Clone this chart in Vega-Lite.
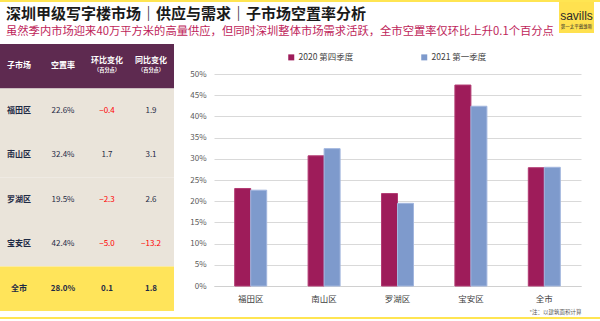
{
  "$schema": "https://vega.github.io/schema/vega-lite/v6.json",
  "padding": 0,
  "background": "white",
  "config": {
    "view": {"stroke": null},
    "font": "Noto Sans CJK SC",
    "text": {"font": "Noto Sans CJK SC"}
  },
  "datasets": {
    "heading": [
      {"kind": "title", "text": "深圳甲级写字楼市场｜供应与需求｜子市场空置率分析"},
      {"kind": "subtitle", "text": "虽然季内市场迎来40万平方米的高量供应，但同时深圳整体市场需求活跃，全市空置率仅环比上升0.1个百分点"}
    ],
    "logo": [
      {"line": "brand", "text": "savills"},
      {"line": "cn", "text": "第一太平戴维斯"}
    ],
    "tableRows": [
      {"row": "header", "kind": "header"},
      {"row": "福田区", "kind": "body"},
      {"row": "南山区", "kind": "body"},
      {"row": "罗湖区", "kind": "body"},
      {"row": "宝安区", "kind": "body"},
      {"row": "全市", "kind": "total"}
    ],
    "tableHeader": [
      {"col": "子市场", "l1": "子市场", "l2": ""},
      {"col": "空置率", "l1": "空置率", "l2": ""},
      {"col": "环比变化", "l1": "环比变化", "l2": "（百分点）"},
      {"col": "同比变化", "l1": "同比变化", "l2": "（百分点）"}
    ],
    "table": [
      {"region": "福田区", "空置率": 22.6, "环比变化": -0.4, "同比变化": 1.9, "total": false},
      {"region": "南山区", "空置率": 32.4, "环比变化": 1.7, "同比变化": 3.1, "total": false},
      {"region": "罗湖区", "空置率": 19.5, "环比变化": -2.3, "同比变化": 2.6, "total": false},
      {"region": "宝安区", "空置率": 42.4, "环比变化": -5.0, "同比变化": -13.2, "total": false},
      {"region": "全市", "空置率": 28.0, "环比变化": 0.1, "同比变化": 1.8, "total": true}
    ],
    "vacancy": [
      {"region": "福田区", "quarter": "2020 第四季度", "rate": 23.0},
      {"region": "福田区", "quarter": "2021 第一季度", "rate": 22.6},
      {"region": "南山区", "quarter": "2020 第四季度", "rate": 30.7},
      {"region": "南山区", "quarter": "2021 第一季度", "rate": 32.4},
      {"region": "罗湖区", "quarter": "2020 第四季度", "rate": 21.8},
      {"region": "罗湖区", "quarter": "2021 第一季度", "rate": 19.5},
      {"region": "宝安区", "quarter": "2020 第四季度", "rate": 47.4},
      {"region": "宝安区", "quarter": "2021 第一季度", "rate": 42.4},
      {"region": "全市", "quarter": "2020 第四季度", "rate": 27.9},
      {"region": "全市", "quarter": "2021 第一季度", "rate": 28.0}
    ]
  },
  "spacing": 5,
  "resolve": {"scale": {"color": "independent", "stroke": "independent"}, "legend": {"color": "independent"}},
  "vconcat": [
    {
      "spacing": 0,
      "bounds": "flush",
      "vconcat": [
        {
          "spacing": 0,
          "bounds": "flush",
          "hconcat": [
            {
              "width": 559,
              "height": 39,
              "data": {"name": "heading"},
              "encoding": {
                "x": {"datum": 0, "type": "quantitative", "scale": {"domain": [0, 1]}, "axis": null},
                "y": {"field": "kind", "type": "nominal", "scale": {"type": "point", "domain": ["title", "subtitle"], "padding": 0.614, "align": 0.674}, "axis": null},
                "text": {"field": "text"}
              },
              "layer": [
                {
                  "transform": [{"filter": "datum.kind == 'title'"}],
                  "mark": {"type": "text", "align": "left", "dx": 6, "fontSize": 15, "fontWeight": "bold", "fill": "#1A1A1A"}
                },
                {
                  "transform": [{"filter": "datum.kind == 'subtitle'"}],
                  "mark": {"type": "text", "align": "left", "dx": 6, "fontSize": 11.3, "fill": "#BE1E5A"}
                }
              ]
            },
            {
              "width": 35,
              "height": 33,
              "layer": [
                {
                  "data": {"values": [{}]},
                  "mark": {"type": "rect", "fill": "#FFE14F"},
                  "encoding": {}
                },
                {
                  "data": {"name": "logo"},
                  "encoding": {
                    "y": {"field": "line", "type": "nominal", "scale": {"type": "point", "domain": ["brand", "cn"], "padding": 1.441, "align": 0.735}, "axis": null},
                    "text": {"field": "text"}
                  },
                  "layer": [
                    {
                      "transform": [{"filter": "datum.line == 'brand'"}],
                      "mark": {"type": "text", "font": "Liberation Sans", "fontSize": 12, "fill": "#2B2B2B"}
                    },
                    {
                      "transform": [{"filter": "datum.line == 'cn'"}],
                      "mark": {"type": "text", "fontSize": 4.5, "fill": "#2B2B2B"}
                    }
                  ]
                }
              ]
            }
          ]
        },
        {
          "width": 600,
          "height": 2,
          "data": {"values": [{}]},
          "mark": {"type": "rect", "fill": "#FFE552"},
          "encoding": {}
        }
      ]
    },
    {
      "spacing": 2,
      "resolve": {"scale": {"color": "independent", "stroke": "independent"}, "legend": {"color": "independent"}},
      "vconcat": [
        {
          "spacing": 12,
          "resolve": {"scale": {"color": "independent", "stroke": "independent"}, "legend": {"color": "independent"}},
          "hconcat": [
            {
              "width": 174,
              "height": 267,
              "layer": [
                {
                  "data": {"name": "tableRows"},
                  "mark": {"type": "rect"},
                  "encoding": {
                    "y": {"field": "row", "type": "nominal", "scale": {"type": "band", "domain": ["header", "福田区", "南山区", "罗湖区", "宝安区", "全市"], "paddingInner": 0, "paddingOuter": 0}, "axis": null},
                    "color": {"field": "kind", "type": "nominal", "scale": {"domain": ["header", "body", "total"], "range": ["#5E2A50", "#EAE4DA", "#FFE45A"]}, "legend": null}
                  }
                },
                {
                  "data": {"name": "tableHeader"},
                  "encoding": {
                    "x": {"field": "col", "type": "nominal", "scale": {"type": "point", "domain": ["子市场", "空置率", "环比变化", "同比变化"], "padding": 0.477, "align": 0.452}, "axis": null},
                    "y": {"datum": "header", "type": "nominal", "scale": {"type": "band", "domain": ["header", "福田区", "南山区", "罗湖区", "宝安区", "全市"], "paddingInner": 0, "paddingOuter": 0}, "axis": null}
                  },
                  "layer": [
                    {
                      "transform": [{"filter": "datum.l2 == ''"}],
                      "mark": {"type": "text", "fontSize": 8, "fontWeight": "bold", "fill": "white"},
                      "encoding": {"text": {"field": "l1"}}
                    },
                    {
                      "transform": [{"filter": "datum.l2 != ''"}],
                      "mark": {"type": "text", "fontSize": 8, "fontWeight": "bold", "fill": "white", "dy": -5},
                      "encoding": {"text": {"field": "l1"}}
                    },
                    {
                      "transform": [{"filter": "datum.l2 != ''"}],
                      "mark": {"type": "text", "fontSize": 5.2, "fontWeight": "bold", "fill": "white", "dy": 3.5},
                      "encoding": {"text": {"field": "l2"}}
                    }
                  ]
                },
                {
                  "data": {"name": "table"},
                  "mark": {"type": "text", "fontSize": 8, "fontWeight": "bold", "fill": "#1E2A45"},
                  "encoding": {
                    "x": {"datum": "子市场", "type": "nominal", "scale": {"type": "point", "domain": ["子市场", "空置率", "环比变化", "同比变化"], "padding": 0.477, "align": 0.452}, "axis": null},
                    "y": {"field": "region", "type": "nominal", "scale": {"type": "band", "domain": ["header", "福田区", "南山区", "罗湖区", "宝安区", "全市"], "paddingInner": 0, "paddingOuter": 0}, "axis": null},
                    "text": {"field": "region"}
                  }
                },
                {
                  "data": {"name": "table"},
                  "transform": [
                    {"fold": ["空置率", "环比变化", "同比变化"], "as": ["col", "val"]},
                    {"calculate": "datum.col == '空置率' ? format(datum.val, '.1f') + '%' : format(datum.val, '.1f')", "as": "label"}
                  ],
                  "encoding": {
                    "x": {"field": "col", "type": "nominal", "scale": {"type": "point", "domain": ["子市场", "空置率", "环比变化", "同比变化"], "padding": 0.477, "align": 0.452}, "axis": null},
                    "y": {"field": "region", "type": "nominal", "scale": {"type": "band", "domain": ["header", "福田区", "南山区", "罗湖区", "宝安区", "全市"], "paddingInner": 0, "paddingOuter": 0}, "axis": null},
                    "text": {"field": "label"},
                    "fill": {"condition": {"test": "datum.val < 0", "value": "#FF0000"}, "value": "#1E2A45"}
                  },
                  "layer": [
                    {
                      "transform": [{"filter": "!datum.total"}],
                      "mark": {"type": "text", "fontSize": 8}
                    },
                    {
                      "transform": [{"filter": "datum.total"}],
                      "mark": {"type": "text", "fontSize": 8, "fontWeight": "bold"}
                    }
                  ]
                }
              ]
            },
            {
              "width": 367,
              "height": 242,
              "data": {"name": "vacancy"},
              "mark": {"type": "bar", "strokeWidth": 1},
              "encoding": {
                "x": {
                  "field": "region",
                  "type": "nominal",
                  "sort": ["福田区", "南山区", "罗湖区", "宝安区", "全市"],
                  "scale": {"paddingInner": 0.564, "paddingOuter": 0.282},
                  "axis": {
                    "title": "*注：以建筑面积计算",
                    "titleFontSize": 5.5,
                    "titleFontWeight": "normal",
                    "titleColor": "#595959",
                    "titleAnchor": "end",
                    "titlePadding": 3,
                    "labelAngle": 0,
                    "labelFontSize": 8.5,
                    "labelColor": "#404040",
                    "labelPadding": 8,
                    "ticks": false,
                    "domainColor": "#D0D0D0",
                    "minExtent": 20,
                    "maxExtent": 20
                  }
                },
                "xOffset": {"field": "quarter", "sort": ["2020 第四季度", "2021 第一季度"]},
                "y": {
                  "field": "rate",
                  "type": "quantitative",
                  "scale": {"domain": [0, 57.08], "nice": false},
                  "axis": {
                    "title": null,
                    "values": [0, 5, 10, 15, 20, 25, 30, 35, 40, 45, 50],
                    "labelExpr": "datum.value + '%'",
                    "domain": false,
                    "ticks": false,
                    "labelPadding": 8,
                    "labelFontSize": 8,
                    "labelColor": "#595959",
                    "gridColor": "#D9D9D9",
                    "minExtent": 28,
                    "maxExtent": 28
                  }
                },
                "color": {
                  "field": "quarter",
                  "type": "nominal",
                  "scale": {"domain": ["2020 第四季度", "2021 第一季度"], "range": ["#9E1C5A", "#7E9ACC"]},
                  "legend": {
                    "title": null,
                    "orient": "none",
                    "direction": "horizontal",
                    "legendX": 67,
                    "legendY": 3,
                    "padding": 6,
                    "symbolType": "square",
                    "symbolSize": 36,
                    "symbolStrokeWidth": 0,
                    "labelFontSize": 8.5,
                    "labelColor": "#404040",
                    "labelOffset": 3,
                    "columnPadding": 66
                  }
                },
                "stroke": {
                  "field": "quarter",
                  "type": "nominal",
                  "scale": {"domain": ["2020 第四季度", "2021 第一季度"], "range": ["#B23A72", "#A2B6DE"]},
                  "legend": null
                }
              }
            }
          ]
        },
        {
          "width": 600,
          "height": 2,
          "data": {"values": [{}]},
          "mark": {"type": "rect", "fill": "#FFE552"},
          "encoding": {}
        }
      ]
    }
  ]
}
